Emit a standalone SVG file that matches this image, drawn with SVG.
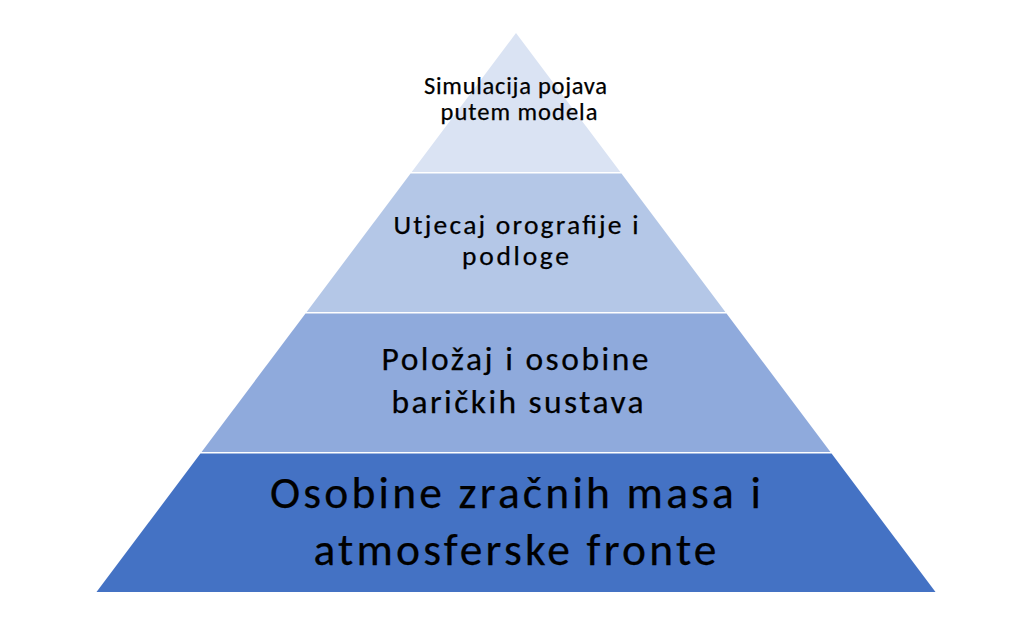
<svg xmlns="http://www.w3.org/2000/svg" width="1024" height="635" viewBox="0 0 1024 635">
  <style>
    .lbl { font-family: Calibri, Carlito, Lato, "Liberation Sans", sans-serif; fill: #000000; stroke: #000000; stroke-width: 0.25; text-anchor: middle; }
  </style>
  <rect x="0" y="0" width="1024" height="635" fill="#ffffff"/>
  <g id="layer-4">
    <polygon points="200.44,453.5 831.56,453.5 935.5,592 96.5,592" fill="#4472C4"/>
    <text class="lbl" font-size="45.5" x="515.5" y="508" textLength="491" lengthAdjust="spacing">Osobine zračnih masa i</text>
    <text class="lbl" font-size="45.5" x="515" y="564.5" textLength="403" lengthAdjust="spacing">atmosferske fronte</text>
  </g>
  <g id="layer-3">
    <polygon points="305.5,313.5 726.5,313.5 830.44,452 201.56,452" fill="#8FAADC"/>
    <text class="lbl" font-size="33.5" x="515" y="369.5" textLength="267" lengthAdjust="spacing">Položaj i osobine</text>
    <text class="lbl" font-size="33.5" x="517.5" y="412.5" textLength="252" lengthAdjust="spacing">baričkih sustava</text>
  </g>
  <g id="layer-2">
    <polygon points="410.56,173.5 621.44,173.5 725.38,312 306.62,312" fill="#B4C7E7"/>
    <text class="lbl" font-size="27.5" x="516" y="234" textLength="245" lengthAdjust="spacing">Utjecaj orografije i</text>
    <text class="lbl" font-size="27.5" x="515.5" y="265" textLength="107" lengthAdjust="spacing">podloge</text>
  </g>
  <g id="layer-1">
    <polygon points="516,33 620.31,172 411.69,172" fill="#DAE3F3"/>
    <text class="lbl" font-size="24.5" x="515.5" y="94.3" textLength="183" lengthAdjust="spacing">Simulacija pojava</text>
    <text class="lbl" font-size="24.5" x="519" y="119.5" textLength="157" lengthAdjust="spacing">putem modela</text>
  </g>
  <g id="connectors"></g>
</svg>
